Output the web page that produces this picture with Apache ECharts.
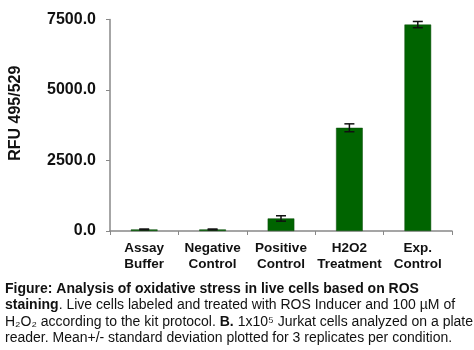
<!DOCTYPE html>
<html>
<head>
<meta charset="utf-8">
<script src="https://cdn.jsdelivr.net/npm/echarts@6/dist/echarts.min.js"></script>
<style>
html, body { margin: 0; padding: 0; background: #fff; }
#myChart { width: 474px; height: 350px; }
</style>
</head>
<body>
<div id="myChart"></div>
<script>
// data
var categories = ["Assay\nBuffer", "Negative\nControl", "Positive\nControl", "H2O2\nTreatment", "Exp.\nControl"];
var means = [55, 55, 445, 3660, 7320];
var sds = [15, 15, 95, 140, 110];
var yTicks = [0, 2500, 5000, 7500];

var myChart = echarts.init(document.getElementById("myChart"));
var font = "'Liberation Sans', Arial, sans-serif";

myChart.setOption({
  animation: false,
  grid: { left: 95, right: 22, top: 19.5, bottom: 119 },
  xAxis: {
    type: "category",
    data: categories,
    axisLine: { lineStyle: { color: "#888", width: 1.5 } },
    axisTick: { show: true, length: 4, lineStyle: { color: "#888" } },
    axisLabel: {
      color: "#111", fontWeight: "bold", fontSize: 13.5, fontFamily: font,
      lineHeight: 16, margin: 9, interval: 0
    }
  },
  yAxis: {
    type: "value",
    min: yTicks[0],
    max: yTicks[yTicks.length - 1],
    interval: 2500,
    name: "RFU 495/529",
    nameLocation: "middle",
    nameRotate: 90,
    nameGap: 86,
    nameTextStyle: { color: "#111", fontWeight: "bold", fontSize: 16, fontFamily: font, padding: [0, 0, 0, 24] },
    axisLine: { show: true, lineStyle: { color: "#888", width: 1.5 } },
    axisTick: { show: true, length: 4, lineStyle: { color: "#888" } },
    splitLine: { show: false },
    axisLabel: {
      color: "#111", fontWeight: "bold", fontSize: 16, fontFamily: font, margin: 14,
      formatter: function (v) { return v.toFixed(1); }
    }
  },
  series: [
    {
      type: "bar",
      data: means,
      barWidth: "39%",
      itemStyle: { color: "#006400", borderColor: "#0a4d0a", borderWidth: 0.5 }
    },
    {
      // error bars (mean +/- sd)
      type: "custom",
      data: means.map(function (m, i) { return [i, m - sds[i], m + sds[i]]; }),
      renderItem: function (params, api) {
        var lo = api.coord([api.value(0), api.value(1)]);
        var hi = api.coord([api.value(0), api.value(2)]);
        var w = 5;
        var style = { stroke: "#111", lineWidth: 1.5 };
        return {
          type: "group",
          children: [
            { type: "line", shape: { x1: hi[0], y1: hi[1], x2: lo[0], y2: lo[1] }, style: style },
            { type: "line", shape: { x1: hi[0] - w, y1: hi[1], x2: hi[0] + w, y2: hi[1] }, style: style },
            { type: "line", shape: { x1: lo[0] - w, y1: lo[1], x2: lo[0] + w, y2: lo[1] }, style: style }
          ]
        };
      },
      z: 10
    }
  ],
  graphic: [
    {
      type: "text",
      left: 5,
      top: 281,
      style: {
        text: "{b|Figure: Analysis of oxidative stress in live cells based on ROS}\n" +
              "{b|staining}{n|. Live cells labeled and treated with ROS Inducer and 100 µM of}\n" +
              "{n|H₂O₂ according to the kit protocol. }{b|B.}{n| 1x10⁵ Jurkat cells analyzed on a plate}\n" +
              "{n|reader. Mean+/- standard deviation plotted for 3 replicates per condition.}",
        fill: "#111",
        fontFamily: font,
        fontSize: 14,
        lineHeight: 16.3,
        rich: {
          b: { fontWeight: "bold", fontSize: 14, fontFamily: font, lineHeight: 16.3 },
          n: { fontWeight: "normal", fontSize: 14, fontFamily: font, lineHeight: 16.3 }
        }
      }
    }
  ]
});

window.addEventListener("resize", function () {
  myChart.resize();
});
</script>
</body>
</html>
